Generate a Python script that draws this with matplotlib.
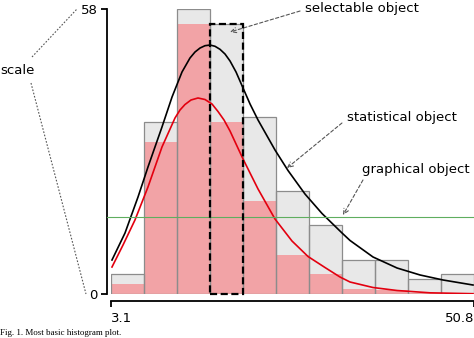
import numpy as np
import matplotlib
matplotlib.use("Agg")
import matplotlib.pyplot as plt
from matplotlib.lines import Line2D

# histogram: 11 bins between the two x ticks
x_lo, x_hi = 3.1, 50.8
y_top = 58
all_counts = [4, 35, 58, 55, 36, 21, 14, 7, 7, 3, 4]
sel_counts = [2, 31, 55, 35, 19, 8, 4, 1, 0.8, 0.2, 0.1]
highlight_bin = 3

# density curves (read along x)
black_x = [3.23, 4.94, 6.65, 7.96, 9.80, 11.12, 12.43, 13.48, 14.14, 14.80, 15.45,
           16.11, 16.77, 17.42, 18.08, 18.74, 19.53, 20.45, 21.37, 22.42, 24.65,
           26.36, 28.59, 30.83, 33.46, 34.51, 37.53, 40.69, 43.71, 46.73, 50.67]
black_y = [6.92, 12.41, 19.74, 25.85, 33.99, 40.09, 45.18, 48.03, 49.25, 50.06, 50.53,
           50.67, 50.41, 49.80, 48.84, 47.42, 45.18, 41.92, 38.67, 35.41, 29.31,
           25.13, 20.35, 16.38, 12.41, 10.89, 7.53, 5.29, 3.87, 2.85, 1.83]
red_x = [3.23, 4.68, 6.25, 7.96, 9.80, 11.51, 12.17, 12.82, 13.61, 14.53, 15.45,
         16.37, 17.16, 17.95, 18.74, 19.53, 20.45, 22.42, 24.65, 26.88, 28.99,
         31.22, 33.19, 34.51, 37.53, 40.69, 45.02, 50.67]
red_y = [5.49, 9.97, 15.06, 21.78, 29.92, 35.82, 37.45, 38.56, 39.48, 39.89, 39.58,
         38.67, 37.14, 35.41, 33.17, 30.53, 27.47, 21.37, 15.26, 10.79, 7.63,
         5.39, 3.46, 2.44, 1.32, 0.71, 0.24, 0.06]
ref_level = 15.67

edges = np.linspace(x_lo, x_hi, len(all_counts) + 1)
width = edges[1] - edges[0]

fig = plt.figure(figsize=(4.74, 3.38), dpi=100)
ax = fig.add_axes([111 / 474, 44 / 338, 363 / 474, 285 / 338])

ax.bar(edges[:-1], all_counts, width=width, align='edge', color='#e8e8e8',
       edgecolor='none', zorder=1)
ax.bar(edges[:-1], sel_counts, width=width, align='edge', color='#f2a3a6',
       edgecolor='none', zorder=2)
ax.bar(edges[:-1], all_counts, width=width, align='edge', fill=False,
       edgecolor='#8c8c8c', linewidth=0.9, zorder=3)

ax.plot(black_x, black_y, color='black', lw=1.2, zorder=4,
        solid_joinstyle='round')
ax.plot(red_x, red_y, color='#e3000f', lw=1.2, zorder=4,
        solid_joinstyle='round')
ax.axhline(ref_level, xmin=-0.012, xmax=1, color='#5fae5f', lw=0.8, zorder=5,
           clip_on=False)

# dashed box around the selected bin
ax.add_patch(plt.Rectangle((edges[highlight_bin], 0), width,
                           all_counts[highlight_bin], fill=False,
                           edgecolor='black', lw=1.6, linestyle=(0, (3.2, 1.6)),
                           zorder=6, clip_on=False))

ax.set_xlim(x_lo, x_hi)
ax.set_ylim(0, y_top)
for s in ['top', 'right']:
    ax.spines[s].set_visible(False)
ax.spines['left'].set_position(('outward', 3.2))
ax.spines['bottom'].set_position(('outward', 4.7))
ax.spines['left'].set_bounds(0, y_top)
ax.spines['bottom'].set_bounds(x_lo, x_hi)
ax.spines['left'].set_linewidth(1.3)
ax.spines['bottom'].set_linewidth(1.3)
ax.set_yticks([0, y_top])
ax.set_yticklabels(['0', '58'])
ax.set_xticks([x_lo, x_hi])
ax.set_xticklabels(['3.1', '50.8'])
ax.tick_params(width=1.3, length=4, labelsize=9.5)
ax.tick_params(axis='x', pad=4)
ax.tick_params(axis='y', pad=2.5)
xl = ax.get_xticklabels()
xl[0].set_ha('left')
xl[1].set_ha('right')

arrow = dict(arrowstyle='->', linestyle=(0, (3, 2)), color='#555555', lw=0.8,
             shrinkA=0, shrinkB=0, mutation_scale=9)
notes = [
    ('selectable object', (28.59, 58.2), (27.94, 57.59), (18.74, 53.32)),
    ('statistical object', (34.11, 36.02), (33.45, 34.80), (26.23, 25.64)),
    ('graphical object', (36.08, 25.24), (36.21, 23.20), (33.59, 16.08)),
]
for label, pos, start, tip in notes:
    ax.text(pos[0], pos[1], label, fontsize=9.5, va='center', ha='left',
            clip_on=False)
    ax.annotate('', xy=tip, xytext=start, arrowprops=arrow,
                annotation_clip=False)

# scale label with dotted guides to the ends of the y axis
fig.text(0.0, 0.790, 'scale', fontsize=9.5, va='center', ha='left')
fig.add_artist(Line2D([0.0675, 0.1624], [0.8314, 0.9734], color='#555555',
                      lw=0.8, linestyle=(0, (1.5, 1.5))))
fig.add_artist(Line2D([0.0654, 0.1814], [0.7544, 0.1302], color='#555555',
                      lw=0.8, linestyle=(0, (1.5, 1.5))))

fig.text(0.0, 0.002, 'Fig. 1. Most basic histogram plot.', fontsize=6.5,
         family='Liberation Serif', va='bottom', ha='left')

fig.savefig('out.png', dpi=100)
